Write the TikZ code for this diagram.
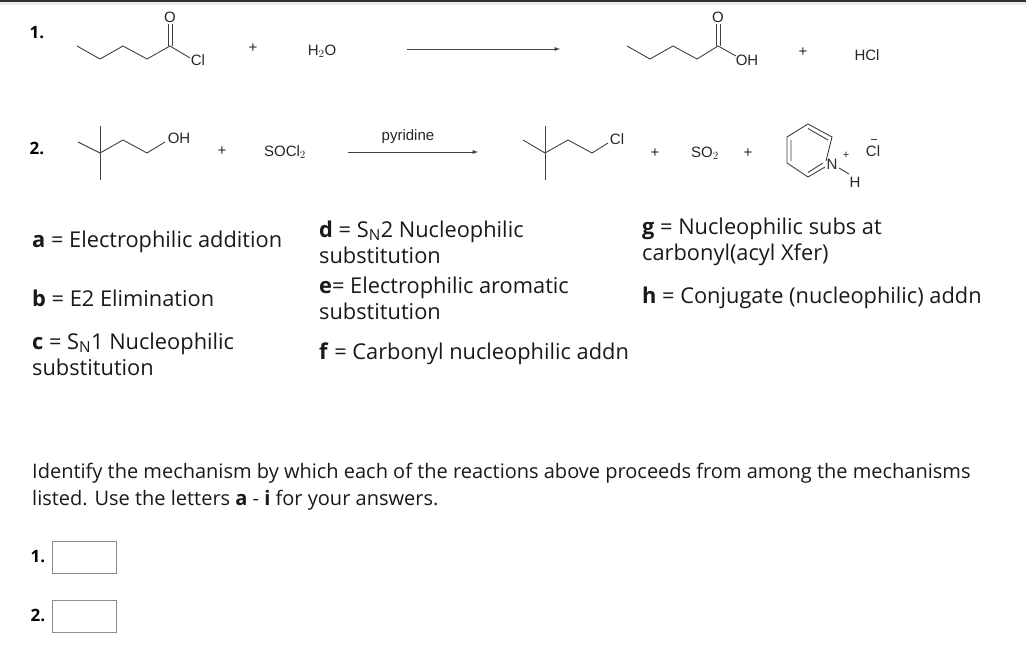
\documentclass[tikz,border=0pt]{standalone}
\usepackage{fontspec}
\setmainfont{Open Sans}
\newfontfamily\chem{Liberation Sans}
\begin{document}
\begin{tikzpicture}[x=1pt,y=-1pt,
  bond/.style={line width=0.9pt,color=black!75},
  ch/.style={font=\chem\fontsize{15}{16}\selectfont,inner sep=0.5pt,text=black!85},
  txt/.style={font=\fontsize{21.8}{26}\selectfont,anchor=west,align=left,inner sep=0,text=black!90},
  num/.style={font=\bfseries\fontsize{17}{18}\selectfont,inner sep=0},
  ans/.style={draw=black!45,line width=0.8pt,minimum width=64pt,minimum height=32pt,inner sep=0}]
\useasboundingbox (0,0) rectangle (1026,658);
\fill[black!80] (0,0) rectangle (1026,2);
\fill[black!8] (0,2) rectangle (1026,5);
% reaction 1
\node[num] (n1) at (37,33) {1.};
\draw[bond] (77,46) -- (100,59) -- (123,46) -- (147,59) -- (170,46) -- (190,58);
\draw[bond] (168,46) -- (168,24) (172,46) -- (172,24);
\node[ch] (o1) at (170,17) {O};
\node[ch] (cl1) at (198,60) {Cl};
\node[ch] (p1) at (253,48) {+};
\node[ch] (h2o) at (322,51) {H$_2$O};
\coordinate (a1s) at (407,49); \coordinate (a1e) at (560,49);
\draw[bond,-latex] (a1s) -- (a1e);
\draw[bond] (627,46) -- (650,59) -- (673,46) -- (697,59) -- (718,46) -- (736,56);
\draw[bond] (716,46) -- (716,24) (720,46) -- (720,24);
\node[ch] (o2) at (718,17) {O};
\node[ch] (oh2) at (747,60) {OH};
\node[ch] (p2) at (803,52) {+};
\node[ch] (hcl) at (867,55) {HCl};
% reaction 2
\node[num] (n2) at (37,148) {2.};
\draw[bond] (78,142) -- (100,153) -- (123,140) -- (147,153) -- (165,142);
\draw[bond] (100,126) -- (100,180);
\node[ch] (oh) at (179,138) {OH};
\node[ch] (p3) at (222,151) {+};
\node[ch] (socl) at (285,152) {SOCl$_2$};
\coordinate (a2s) at (348,152); \coordinate (a2e) at (478,152);
\draw[bond,-latex] (a2s) -- (a2e);
\node[ch] (pyr) at (408,137) {pyridine};
\draw[bond] (523,140) -- (545,153) -- (568,140) -- (592,153) -- (608,143);
\draw[bond] (545,126) -- (545,180);
\node[ch] (cl2) at (617,139) {Cl};
\node[ch] (p4) at (655,153) {+};
\node[ch] (so2) at (705,153) {SO$_2$};
\node[ch] (p5) at (748,153) {+};
\draw[bond] (826,161) -- (832,137) -- (808,124) -- (787,137) -- (787,163) -- (808,177) -- (825,167);
\draw[bond] (828,140) -- (808,128.5) (791,140) -- (791,161) (808,172.5) -- (823,163);
\node[ch] (nn) at (832,164) {N};
\node[ch,font=\chem\fontsize{11}{11}\selectfont] (np) at (846,155) {+};
\draw[bond] (839,168) -- (849,174);
\node[ch] (hh) at (855,182) {H};
\node[ch] (clm) at (873,151) {Cl};
\draw[bond] (871,139) -- (877,139);
% mechanisms
\node[txt] (a) at (32,242) {\textbf{a} = Electrophilic addition};
\node[txt] (b) at (32,298) {\textbf{b} = E2 Elimination};
\node[txt] (c) at (32,354) {\textbf{c} = S$_{\rm N}$1 Nucleophilic\\substitution};
\node[txt] (d) at (319,242) {\textbf{d} = S$_{\rm N}$2 Nucleophilic\\substitution};
\node[txt] (e) at (319,298) {\textbf{e}= Electrophilic aromatic\\substitution};
\node[txt] (f) at (319,354) {\textbf{f} = Carbonyl nucleophilic addn};
\node[txt] (g) at (642,242) {\textbf{g} = Nucleophilic subs at\\carbonyl(acyl Xfer)};
\node[txt] (h) at (642,298) {\textbf{h} = Conjugate (nucleophilic) addn};
\node[txt,font=\fontsize{20}{27}\selectfont] (q) at (32,487) {Identify the mechanism by which each of the reactions above proceeds from among the mechanisms\\listed. Use the letters \textbf{a} - \textbf{i} for your answers.};
\node[num] (l1) at (38,557) {1.};
\node[ans,anchor=north west] (b1) at (52,541) {};
\node[num] (l2) at (38,615) {2.};
\node[ans,anchor=north west] (b2) at (52,600) {};
\end{tikzpicture}
\end{document}
